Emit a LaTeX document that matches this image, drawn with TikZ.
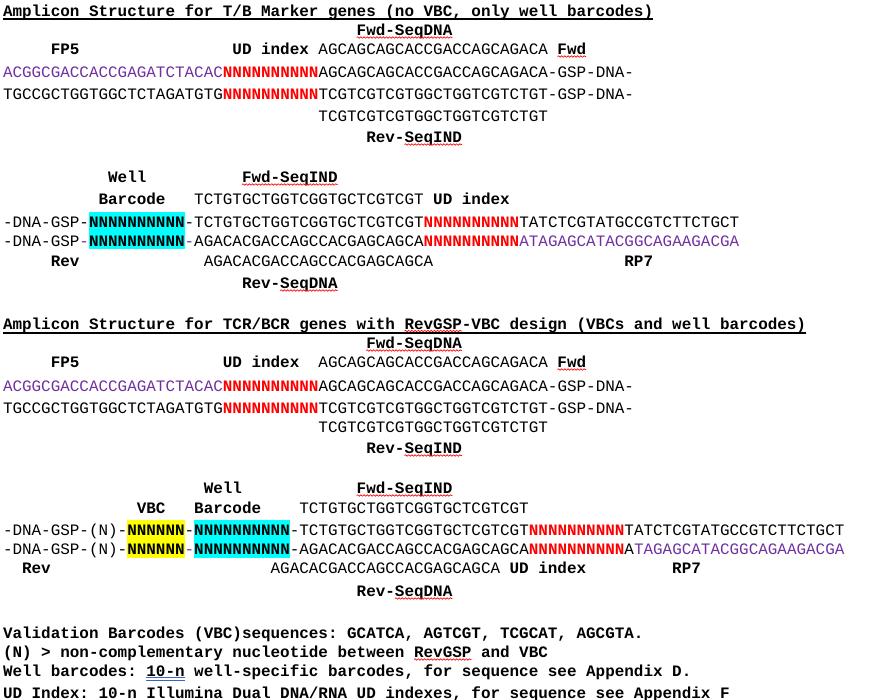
\documentclass[tikz,border=0pt]{standalone}
\usepackage{fontspec}
\setmonofont{Liberation Mono}
\usepackage{tikz}
\usetikzlibrary{decorations.pathmorphing}

\definecolor{seqpurple}{HTML}{7030A0}
\definecolor{wellcyan}{HTML}{00FFFF}
\definecolor{vbcyellow}{HTML}{FFFF00}
\definecolor{ulblue}{HTML}{3A64C0}

\newcommand{\seqfont}{\ttfamily\fontsize{11.95}{14}\selectfont}
\newcommand{\idxN}[1]{{\bfseries\color{red}#1}}
\newcommand{\pur}[1]{{\color{seqpurple}#1}}
\newcommand{\bcN}[1]{{\bfseries #1}}

\begin{document}
\begin{tikzpicture}[x=7.17pt,y=-0.75pt,
    seq/.style={anchor=base west,inner sep=0pt,outer sep=0pt,font=\seqfont},
    lbl/.style={seq,font=\seqfont\bfseries},
    spell/.style={red,line width=0.5pt,decorate,decoration={snake,amplitude=0.55pt,segment length=2.4pt}},
    titleline/.style={line width=1.5pt}]
    \useasboundingbox (-0.314,0) rectangle (90.9,700);

    % T/B marker amplicon
    \node at (0,16)[lbl] (titleA) {Amplicon Structure for T/B Marker genes (no VBC, only well barcodes)};
    \draw[titleline] (0,18.5) -- (68,18.5);
    \node at (37,35)[lbl] (fwdseqdnaA) {Fwd-SeqDNA};
    \node at (5,54)[lbl] (fpA) {FP5};
    \node at (24,54)[lbl] (udA) {UD index};
    \node at (33,54)[seq] (fwdprimA) {AGCAGCAGCACCGACCAGCAGACA};
    \node at (58,54)[lbl] (fwdA) {Fwd};
    \node at (0,77)[seq] (topA) {\pur{ACGGCGACCACCGAGATCTACAC}\idxN{NNNNNNNNNN}AGCAGCAGCACCGACCAGCAGACA-GSP-DNA-};
    \node at (0,99)[seq] (botA) {TGCCGCTGGTGGCTCTAGATGTG\idxN{NNNNNNNNNN}TCGTCGTCGTGGCTGGTCGTCTGT-GSP-DNA-};
    \node at (33,121)[seq] (revprimA) {TCGTCGTCGTGGCTGGTCGTCTGT};
    \node at (38,142)[lbl] (revseqindA) {Rev-SeqIND};
    \draw[spell] (37,37.5) -- (47,37.5);
    \draw[spell] (58,56.5) -- (61,56.5);
    \draw[spell] (42,144.5) -- (48,144.5);

    \fill[wellcyan] (9,212) rectangle (19,249);
    \node at (11,182)[lbl] (wellA) {Well};
    \node at (25,182)[lbl] (fwdseqindA) {Fwd-SeqIND};
    \node at (10,204)[lbl] (barcodeA) {Barcode};
    \node at (20,204)[seq] (fwdindA) {TCTGTGCTGGTCGGTGCTCGTCGT};
    \node at (45,204)[lbl] (udB) {UD index};
    \node at (0,227)[seq] (topB) {-DNA-GSP-\bcN{NNNNNNNNNN}-TCTGTGCTGGTCGGTGCTCGTCGT\idxN{NNNNNNNNNN}TATCTCGTATGCCGTCTTCTGCT};
    \node at (0,246)[seq] (botB) {-DNA-GSP\pur{-}\bcN{NNNNNNNNNN}\pur{-}AGACACGACCAGCCACGAGCAGCA\idxN{NNNNNNNNNN}\pur{ATAGAGCATACGGCAGAAGACGA}};
    \node at (5,266)[lbl] (revA) {Rev};
    \node at (21,266)[seq] (revindA) {AGACACGACCAGCCACGAGCAGCA};
    \node at (65,266)[lbl] (rpA) {RP7};
    \node at (25,288)[lbl] (revseqdnaA) {Rev-SeqDNA};
    \draw[spell] (25,184.5) -- (35,184.5);
    \draw[spell] (29,290.5) -- (35,290.5);

    % TCR/BCR amplicon with RevGSP-VBC
    \node at (0,329)[lbl] (titleB) {Amplicon Structure for TCR/BCR genes with RevGSP-VBC design (VBCs and well barcodes)};
    \draw[spell] (42,331) -- (48,331);
    \draw[titleline] (0,333) -- (84,333);
    \node at (38,348)[lbl] (fwdseqdnaB) {Fwd-SeqDNA};
    \node at (5,367)[lbl] (fpB) {FP5};
    \node at (23,367)[lbl] (udC) {UD index};
    \node at (33,367)[seq] (fwdprimB) {AGCAGCAGCACCGACCAGCAGACA};
    \node at (58,367)[lbl] (fwdB) {Fwd};
    \node at (0,391)[seq] (topC) {\pur{ACGGCGACCACCGAGATCTACAC}\idxN{NNNNNNNNNN}AGCAGCAGCACCGACCAGCAGACA-GSP-DNA-};
    \node at (0,413)[seq] (botC) {TGCCGCTGGTGGCTCTAGATGTG\idxN{NNNNNNNNNN}TCGTCGTCGTGGCTGGTCGTCTGT-GSP-DNA-};
    \node at (33,432)[seq] (revprimB) {TCGTCGTCGTGGCTGGTCGTCTGT};
    \node at (38,453)[lbl] (revseqindB) {Rev-SeqIND};
    \draw[spell] (38,350.5) -- (48,350.5);
    \draw[spell] (58,369.5) -- (61,369.5);
    \draw[spell] (42,455.5) -- (48,455.5);

    \fill[vbcyellow] (13,520) rectangle (19,558);
    \fill[wellcyan] (20,520) rectangle (30,558);
    \node at (21,493)[lbl] (wellB) {Well};
    \node at (37,493)[lbl] (fwdseqindB) {Fwd-SeqIND};
    \node at (14,513)[lbl] (vbc) {VBC};
    \node at (20,513)[lbl] (barcodeB) {Barcode};
    \node at (31,513)[seq] (fwdindB) {TCTGTGCTGGTCGGTGCTCGTCGT};
    \node at (0,535)[seq] (topD) {-DNA-GSP-(N)-\bcN{NNNNNN}-\bcN{NNNNNNNNNN}-TCTGTGCTGGTCGGTGCTCGTCGT\idxN{NNNNNNNNNN}TATCTCGTATGCCGTCTTCTGCT};
    \node at (0,554)[seq] (botD) {-DNA-GSP-(N)-\bcN{NNNNNN}\pur{-}\bcN{NNNNNNNNNN}-AGACACGACCAGCCACGAGCAGCA\idxN{NNNNNNNNNN}A\pur{TAGAGCATACGGCAGAAGACGA}};
    \node at (2,573)[lbl] (revB) {Rev};
    \node at (28,573)[seq] (revindB) {AGACACGACCAGCCACGAGCAGCA};
    \node at (53,573)[lbl] (udD) {UD index};
    \node at (70,573)[lbl] (rpB) {RP7};
    \node at (37,596)[lbl] (revseqdnaB) {Rev-SeqDNA};
    \draw[spell] (37,495.5) -- (47,495.5);
    \draw[spell] (41,598.5) -- (47,598.5);

    % notes
    \node at (0,638)[lbl] (noteVBC) {Validation Barcodes (VBC)sequences: GCATCA, AGTCGT, TCGCAT, AGCGTA.};
    \node at (0,657)[lbl] (noteN) {(N) > non-complementary nucleotide between RevGSP and VBC};
    \node at (0,676)[lbl] (noteWell) {Well barcodes: 10-n well-specific barcodes, for sequence see Appendix D.};
    \node at (0,698)[lbl] (noteUD) {UD Index: 10-n Illumina Dual DNA/RNA UD indexes, for sequence see Appendix F};
    \draw[spell] (43,659.5) -- (49,659.5);
    \draw[ulblue,line width=0.6pt] (15,677.5) -- (19,677.5) (15,680) -- (19,680);
\end{tikzpicture}
\end{document}
